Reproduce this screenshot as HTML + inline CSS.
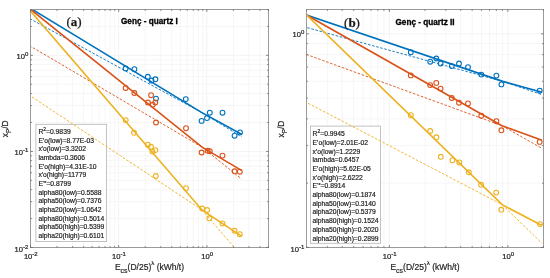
<!DOCTYPE html>
<html><head><meta charset="utf-8"><style>
html,body{margin:0;padding:0;background:#fff;}
body{width:550px;height:278px;overflow:hidden;}
svg{display:block;font-family:"Liberation Sans", sans-serif;will-change:transform;}
text{stroke:#1a1a1a;stroke-width:0.18px;}
.nb{stroke-width:0.25px;}
.tt{stroke:#000;stroke-width:0.3px;}
.tk{stroke:#1e1e1e;stroke-width:0.22px;}
</style></head><body>
<svg width="550" height="278" viewBox="0 0 550 278">
<rect width="550" height="278" fill="#fff"/>
<defs>
<clipPath id="c1"><rect x="30.5" y="9.5" width="238.0" height="238.0"/></clipPath>
<clipPath id="c2"><rect x="306.5" y="9.5" width="237.0" height="238.0"/></clipPath>
</defs>
<line x1="30.50" y1="9.50" x2="30.50" y2="247.50" stroke="#f3f3f3" stroke-width="1"/>
<line x1="57.05" y1="9.50" x2="57.05" y2="247.50" stroke="#f6f6f6" stroke-width="1"/>
<line x1="72.57" y1="9.50" x2="72.57" y2="247.50" stroke="#f6f6f6" stroke-width="1"/>
<line x1="83.59" y1="9.50" x2="83.59" y2="247.50" stroke="#f6f6f6" stroke-width="1"/>
<line x1="92.14" y1="9.50" x2="92.14" y2="247.50" stroke="#f6f6f6" stroke-width="1"/>
<line x1="99.12" y1="9.50" x2="99.12" y2="247.50" stroke="#f6f6f6" stroke-width="1"/>
<line x1="105.02" y1="9.50" x2="105.02" y2="247.50" stroke="#f6f6f6" stroke-width="1"/>
<line x1="110.14" y1="9.50" x2="110.14" y2="247.50" stroke="#f6f6f6" stroke-width="1"/>
<line x1="114.65" y1="9.50" x2="114.65" y2="247.50" stroke="#f6f6f6" stroke-width="1"/>
<line x1="118.68" y1="9.50" x2="118.68" y2="247.50" stroke="#f3f3f3" stroke-width="1"/>
<line x1="145.23" y1="9.50" x2="145.23" y2="247.50" stroke="#f6f6f6" stroke-width="1"/>
<line x1="160.76" y1="9.50" x2="160.76" y2="247.50" stroke="#f6f6f6" stroke-width="1"/>
<line x1="171.77" y1="9.50" x2="171.77" y2="247.50" stroke="#f6f6f6" stroke-width="1"/>
<line x1="180.32" y1="9.50" x2="180.32" y2="247.50" stroke="#f6f6f6" stroke-width="1"/>
<line x1="187.30" y1="9.50" x2="187.30" y2="247.50" stroke="#f6f6f6" stroke-width="1"/>
<line x1="193.20" y1="9.50" x2="193.20" y2="247.50" stroke="#f6f6f6" stroke-width="1"/>
<line x1="198.32" y1="9.50" x2="198.32" y2="247.50" stroke="#f6f6f6" stroke-width="1"/>
<line x1="202.83" y1="9.50" x2="202.83" y2="247.50" stroke="#f6f6f6" stroke-width="1"/>
<line x1="206.86" y1="9.50" x2="206.86" y2="247.50" stroke="#f3f3f3" stroke-width="1"/>
<line x1="233.41" y1="9.50" x2="233.41" y2="247.50" stroke="#f6f6f6" stroke-width="1"/>
<line x1="248.94" y1="9.50" x2="248.94" y2="247.50" stroke="#f6f6f6" stroke-width="1"/>
<line x1="259.95" y1="9.50" x2="259.95" y2="247.50" stroke="#f6f6f6" stroke-width="1"/>
<line x1="268.50" y1="9.50" x2="268.50" y2="247.50" stroke="#f6f6f6" stroke-width="1"/>
<line x1="30.50" y1="247.50" x2="268.50" y2="247.50" stroke="#f3f3f3" stroke-width="1"/>
<line x1="30.50" y1="218.58" x2="268.50" y2="218.58" stroke="#f6f6f6" stroke-width="1"/>
<line x1="30.50" y1="201.66" x2="268.50" y2="201.66" stroke="#f6f6f6" stroke-width="1"/>
<line x1="30.50" y1="189.65" x2="268.50" y2="189.65" stroke="#f6f6f6" stroke-width="1"/>
<line x1="30.50" y1="180.34" x2="268.50" y2="180.34" stroke="#f6f6f6" stroke-width="1"/>
<line x1="30.50" y1="172.74" x2="268.50" y2="172.74" stroke="#f6f6f6" stroke-width="1"/>
<line x1="30.50" y1="166.30" x2="268.50" y2="166.30" stroke="#f6f6f6" stroke-width="1"/>
<line x1="30.50" y1="160.73" x2="268.50" y2="160.73" stroke="#f6f6f6" stroke-width="1"/>
<line x1="30.50" y1="155.82" x2="268.50" y2="155.82" stroke="#f6f6f6" stroke-width="1"/>
<line x1="30.50" y1="151.42" x2="268.50" y2="151.42" stroke="#f3f3f3" stroke-width="1"/>
<line x1="30.50" y1="122.50" x2="268.50" y2="122.50" stroke="#f6f6f6" stroke-width="1"/>
<line x1="30.50" y1="105.58" x2="268.50" y2="105.58" stroke="#f6f6f6" stroke-width="1"/>
<line x1="30.50" y1="93.58" x2="268.50" y2="93.58" stroke="#f6f6f6" stroke-width="1"/>
<line x1="30.50" y1="84.26" x2="268.50" y2="84.26" stroke="#f6f6f6" stroke-width="1"/>
<line x1="30.50" y1="76.66" x2="268.50" y2="76.66" stroke="#f6f6f6" stroke-width="1"/>
<line x1="30.50" y1="70.22" x2="268.50" y2="70.22" stroke="#f6f6f6" stroke-width="1"/>
<line x1="30.50" y1="64.65" x2="268.50" y2="64.65" stroke="#f6f6f6" stroke-width="1"/>
<line x1="30.50" y1="59.74" x2="268.50" y2="59.74" stroke="#f6f6f6" stroke-width="1"/>
<line x1="30.50" y1="55.34" x2="268.50" y2="55.34" stroke="#f3f3f3" stroke-width="1"/>
<line x1="30.50" y1="26.42" x2="268.50" y2="26.42" stroke="#f6f6f6" stroke-width="1"/>
<line x1="30.50" y1="9.50" x2="268.50" y2="9.50" stroke="#f6f6f6" stroke-width="1"/>
<line x1="306.50" y1="9.50" x2="306.50" y2="247.50" stroke="#f6f6f6" stroke-width="1"/>
<line x1="327.37" y1="9.50" x2="327.37" y2="247.50" stroke="#f6f6f6" stroke-width="1"/>
<line x1="342.17" y1="9.50" x2="342.17" y2="247.50" stroke="#f6f6f6" stroke-width="1"/>
<line x1="353.66" y1="9.50" x2="353.66" y2="247.50" stroke="#f6f6f6" stroke-width="1"/>
<line x1="363.04" y1="9.50" x2="363.04" y2="247.50" stroke="#f6f6f6" stroke-width="1"/>
<line x1="370.97" y1="9.50" x2="370.97" y2="247.50" stroke="#f6f6f6" stroke-width="1"/>
<line x1="377.84" y1="9.50" x2="377.84" y2="247.50" stroke="#f6f6f6" stroke-width="1"/>
<line x1="383.91" y1="9.50" x2="383.91" y2="247.50" stroke="#f6f6f6" stroke-width="1"/>
<line x1="389.33" y1="9.50" x2="389.33" y2="247.50" stroke="#f3f3f3" stroke-width="1"/>
<line x1="425.00" y1="9.50" x2="425.00" y2="247.50" stroke="#f6f6f6" stroke-width="1"/>
<line x1="445.87" y1="9.50" x2="445.87" y2="247.50" stroke="#f6f6f6" stroke-width="1"/>
<line x1="460.67" y1="9.50" x2="460.67" y2="247.50" stroke="#f6f6f6" stroke-width="1"/>
<line x1="472.16" y1="9.50" x2="472.16" y2="247.50" stroke="#f6f6f6" stroke-width="1"/>
<line x1="481.54" y1="9.50" x2="481.54" y2="247.50" stroke="#f6f6f6" stroke-width="1"/>
<line x1="489.47" y1="9.50" x2="489.47" y2="247.50" stroke="#f6f6f6" stroke-width="1"/>
<line x1="496.34" y1="9.50" x2="496.34" y2="247.50" stroke="#f6f6f6" stroke-width="1"/>
<line x1="502.41" y1="9.50" x2="502.41" y2="247.50" stroke="#f6f6f6" stroke-width="1"/>
<line x1="507.83" y1="9.50" x2="507.83" y2="247.50" stroke="#f3f3f3" stroke-width="1"/>
<line x1="543.50" y1="9.50" x2="543.50" y2="247.50" stroke="#f6f6f6" stroke-width="1"/>
<line x1="306.50" y1="247.50" x2="543.50" y2="247.50" stroke="#f3f3f3" stroke-width="1"/>
<line x1="306.50" y1="183.18" x2="543.50" y2="183.18" stroke="#f6f6f6" stroke-width="1"/>
<line x1="306.50" y1="145.56" x2="543.50" y2="145.56" stroke="#f6f6f6" stroke-width="1"/>
<line x1="306.50" y1="118.87" x2="543.50" y2="118.87" stroke="#f6f6f6" stroke-width="1"/>
<line x1="306.50" y1="98.16" x2="543.50" y2="98.16" stroke="#f6f6f6" stroke-width="1"/>
<line x1="306.50" y1="81.24" x2="543.50" y2="81.24" stroke="#f6f6f6" stroke-width="1"/>
<line x1="306.50" y1="66.94" x2="543.50" y2="66.94" stroke="#f6f6f6" stroke-width="1"/>
<line x1="306.50" y1="54.55" x2="543.50" y2="54.55" stroke="#f6f6f6" stroke-width="1"/>
<line x1="306.50" y1="43.62" x2="543.50" y2="43.62" stroke="#f6f6f6" stroke-width="1"/>
<line x1="306.50" y1="33.84" x2="543.50" y2="33.84" stroke="#f3f3f3" stroke-width="1"/>
<rect x="35.90" y="124.30" width="70.70" height="117.30" fill="#fff" stroke="#b4b4b4" stroke-width="0.8"/>
<text x="38.40" y="134.00" font-size="6.75" fill="#1a1a1a">R<tspan font-size="5" dy="-3">2</tspan><tspan dy="3">=0.9839</tspan></text>
<text x="38.40" y="142.67" font-size="6.75" fill="#1a1a1a">E'o(low)=8.77E-03</text>
<text x="38.40" y="151.33" font-size="6.75" fill="#1a1a1a">x'o(low)=3.3202</text>
<text x="38.40" y="160.00" font-size="6.75" fill="#1a1a1a">lambda=0.3606</text>
<text x="38.40" y="168.67" font-size="6.75" fill="#1a1a1a">E'o(high)=4.31E-10</text>
<text x="38.40" y="177.34" font-size="6.75" fill="#1a1a1a">x'o(high)=11779</text>
<text x="38.40" y="186.00" font-size="6.75" fill="#1a1a1a">E<tspan font-size="6" dy="-1.2">'*</tspan><tspan dy="1.2">=0.8799</tspan></text>
<text x="38.40" y="194.67" font-size="6.75" fill="#1a1a1a">alpha80(low)=0.5588</text>
<text x="38.40" y="203.34" font-size="6.75" fill="#1a1a1a">alpha50(low)=0.7376</text>
<text x="38.40" y="212.00" font-size="6.75" fill="#1a1a1a">alpha20(low)=1.0642</text>
<text x="38.40" y="220.67" font-size="6.75" fill="#1a1a1a">alpha80(high)=0.5014</text>
<text x="38.40" y="229.34" font-size="6.75" fill="#1a1a1a">alpha50(high)=0.5399</text>
<text x="38.40" y="238.00" font-size="6.75" fill="#1a1a1a">alpha20(high)=0.6101</text>
<rect x="310.50" y="126.10" width="70.00" height="117.20" fill="#fff" stroke="#b4b4b4" stroke-width="0.8"/>
<text x="312.60" y="136.40" font-size="6.75" fill="#1a1a1a">R<tspan font-size="5" dy="-3">2</tspan><tspan dy="3">=0.9945</tspan></text>
<text x="312.60" y="145.08" font-size="6.75" fill="#1a1a1a">E'o(low)=2.01E-02</text>
<text x="312.60" y="153.75" font-size="6.75" fill="#1a1a1a">x'o(low)=1.2229</text>
<text x="312.60" y="162.43" font-size="6.75" fill="#1a1a1a">lambda=0.6457</text>
<text x="312.60" y="171.10" font-size="6.75" fill="#1a1a1a">E'o(high)=5.62E-05</text>
<text x="312.60" y="179.78" font-size="6.75" fill="#1a1a1a">x'o(high)=2.6222</text>
<text x="312.60" y="188.45" font-size="6.75" fill="#1a1a1a">E<tspan font-size="6" dy="-1.2">'*</tspan><tspan dy="1.2">=0.8914</tspan></text>
<text x="312.60" y="197.12" font-size="6.75" fill="#1a1a1a">alpha80(low)=0.1874</text>
<text x="312.60" y="205.80" font-size="6.75" fill="#1a1a1a">alpha50(low)=0.3140</text>
<text x="312.60" y="214.48" font-size="6.75" fill="#1a1a1a">alpha20(low)=0.5379</text>
<text x="312.60" y="223.15" font-size="6.75" fill="#1a1a1a">alpha80(high)=0.1524</text>
<text x="312.60" y="231.83" font-size="6.75" fill="#1a1a1a">alpha50(high)=0.2020</text>
<text x="312.60" y="240.50" font-size="6.75" fill="#1a1a1a">alpha20(high)=0.2899</text>
<polyline points="3.95,4.52 201.45,112.41" fill="none" stroke="#0072bd" stroke-width="0.9" stroke-dasharray="2.6,1.6" clip-path="url(#c1)"/>
<polyline points="201.45,112.41 241.50,136.80" fill="none" stroke="#0072bd" stroke-width="0.9" stroke-dasharray="2.6,1.6" clip-path="url(#c1)"/>
<polyline points="3.95,-7.83 201.45,112.41 241.50,134.29" fill="none" stroke="#0072bd" stroke-width="1.6" clip-path="url(#c1)"/>
<polyline points="3.95,30.65 202.07,147.19" fill="none" stroke="#d95319" stroke-width="0.9" stroke-dasharray="2.6,1.6" clip-path="url(#c1)"/>
<polyline points="202.07,147.19 241.50,178.88" fill="none" stroke="#d95319" stroke-width="0.9" stroke-dasharray="2.6,1.6" clip-path="url(#c1)"/>
<polyline points="3.95,-12.03 202.07,147.19 241.50,170.39" fill="none" stroke="#d95319" stroke-width="1.6" clip-path="url(#c1)"/>
<polyline points="3.95,78.30 201.99,209.94" fill="none" stroke="#edb120" stroke-width="0.9" stroke-dasharray="2.6,1.6" clip-path="url(#c1)"/>
<polyline points="201.99,209.94 241.50,255.75" fill="none" stroke="#edb120" stroke-width="0.9" stroke-dasharray="2.6,1.6" clip-path="url(#c1)"/>
<polyline points="3.95,-19.68 201.99,209.94 241.50,236.20" fill="none" stroke="#edb120" stroke-width="1.6" clip-path="url(#c1)"/>
<polyline points="270.83,17.67 502.70,81.38" fill="none" stroke="#0072bd" stroke-width="0.9" stroke-dasharray="2.6,1.6" clip-path="url(#c2)"/>
<polyline points="502.70,81.38 542.00,94.66" fill="none" stroke="#0072bd" stroke-width="0.9" stroke-dasharray="2.6,1.6" clip-path="url(#c2)"/>
<polyline points="270.83,3.03 502.70,81.38 542.00,92.18" fill="none" stroke="#0072bd" stroke-width="1.6" clip-path="url(#c2)"/>
<polyline points="270.83,41.51 501.99,125.70" fill="none" stroke="#d95319" stroke-width="0.9" stroke-dasharray="2.6,1.6" clip-path="url(#c2)"/>
<polyline points="501.99,125.70 542.00,148.35" fill="none" stroke="#d95319" stroke-width="0.9" stroke-dasharray="2.6,1.6" clip-path="url(#c2)"/>
<polyline points="270.83,-5.17 501.99,125.70 542.00,140.27" fill="none" stroke="#d95319" stroke-width="1.6" clip-path="url(#c2)"/>
<polyline points="270.83,83.77 502.17,204.69" fill="none" stroke="#edb120" stroke-width="0.9" stroke-dasharray="2.6,1.6" clip-path="url(#c2)"/>
<polyline points="502.17,204.69 542.00,243.32" fill="none" stroke="#edb120" stroke-width="0.9" stroke-dasharray="2.6,1.6" clip-path="url(#c2)"/>
<polyline points="270.83,-19.67 502.17,204.69 542.00,225.51" fill="none" stroke="#edb120" stroke-width="1.6" clip-path="url(#c2)"/>
<circle cx="125.6" cy="68.5" r="2.4" fill="none" stroke="#0072bd" stroke-width="1.1"/>
<circle cx="134.4" cy="69.2" r="2.4" fill="none" stroke="#0072bd" stroke-width="1.1"/>
<circle cx="147.8" cy="76.8" r="2.4" fill="none" stroke="#0072bd" stroke-width="1.1"/>
<circle cx="151.5" cy="80.5" r="2.4" fill="none" stroke="#0072bd" stroke-width="1.1"/>
<circle cx="155.4" cy="79.3" r="2.4" fill="none" stroke="#0072bd" stroke-width="1.1"/>
<circle cx="156" cy="98.6" r="2.4" fill="none" stroke="#0072bd" stroke-width="1.1"/>
<circle cx="185.8" cy="99.1" r="2.4" fill="none" stroke="#0072bd" stroke-width="1.1"/>
<circle cx="201.6" cy="120.9" r="2.4" fill="none" stroke="#0072bd" stroke-width="1.1"/>
<circle cx="207" cy="118.1" r="2.4" fill="none" stroke="#0072bd" stroke-width="1.1"/>
<circle cx="209.8" cy="112.7" r="2.4" fill="none" stroke="#0072bd" stroke-width="1.1"/>
<circle cx="222.5" cy="112.7" r="2.4" fill="none" stroke="#0072bd" stroke-width="1.1"/>
<circle cx="234.6" cy="135.7" r="2.4" fill="none" stroke="#0072bd" stroke-width="1.1"/>
<circle cx="240" cy="132.4" r="2.4" fill="none" stroke="#0072bd" stroke-width="1.1"/>
<circle cx="125.6" cy="88" r="2.4" fill="none" stroke="#d95319" stroke-width="1.1"/>
<circle cx="134.4" cy="93" r="2.4" fill="none" stroke="#d95319" stroke-width="1.1"/>
<circle cx="151.1" cy="95.2" r="2.4" fill="none" stroke="#d95319" stroke-width="1.1"/>
<circle cx="147.9" cy="102.5" r="2.4" fill="none" stroke="#d95319" stroke-width="1.1"/>
<circle cx="152.7" cy="104.8" r="2.4" fill="none" stroke="#d95319" stroke-width="1.1"/>
<circle cx="155.3" cy="102.4" r="2.4" fill="none" stroke="#d95319" stroke-width="1.1"/>
<circle cx="156" cy="122.5" r="2.4" fill="none" stroke="#d95319" stroke-width="1.1"/>
<circle cx="186" cy="128.2" r="2.4" fill="none" stroke="#d95319" stroke-width="1.1"/>
<circle cx="201.6" cy="152.5" r="2.4" fill="none" stroke="#d95319" stroke-width="1.1"/>
<circle cx="207.6" cy="150.8" r="2.4" fill="none" stroke="#d95319" stroke-width="1.1"/>
<circle cx="209.8" cy="151.2" r="2.4" fill="none" stroke="#d95319" stroke-width="1.1"/>
<circle cx="222.5" cy="155.6" r="2.4" fill="none" stroke="#d95319" stroke-width="1.1"/>
<circle cx="234.6" cy="171.3" r="2.4" fill="none" stroke="#d95319" stroke-width="1.1"/>
<circle cx="239.8" cy="171.7" r="2.4" fill="none" stroke="#d95319" stroke-width="1.1"/>
<circle cx="125.7" cy="120.1" r="2.4" fill="none" stroke="#edb120" stroke-width="1.1"/>
<circle cx="134" cy="132.8" r="2.4" fill="none" stroke="#edb120" stroke-width="1.1"/>
<circle cx="147.8" cy="144.7" r="2.4" fill="none" stroke="#edb120" stroke-width="1.1"/>
<circle cx="151" cy="146.8" r="2.4" fill="none" stroke="#edb120" stroke-width="1.1"/>
<circle cx="155.4" cy="150.1" r="2.4" fill="none" stroke="#edb120" stroke-width="1.1"/>
<circle cx="152.5" cy="151.6" r="2.4" fill="none" stroke="#edb120" stroke-width="1.1"/>
<circle cx="155.8" cy="176" r="2.4" fill="none" stroke="#edb120" stroke-width="1.1"/>
<circle cx="186" cy="188.2" r="2.4" fill="none" stroke="#edb120" stroke-width="1.1"/>
<circle cx="202.2" cy="208.5" r="2.4" fill="none" stroke="#edb120" stroke-width="1.1"/>
<circle cx="207.1" cy="210" r="2.4" fill="none" stroke="#edb120" stroke-width="1.1"/>
<circle cx="209.3" cy="218.3" r="2.4" fill="none" stroke="#edb120" stroke-width="1.1"/>
<circle cx="222.5" cy="223.4" r="2.4" fill="none" stroke="#edb120" stroke-width="1.1"/>
<circle cx="234.6" cy="230.8" r="2.4" fill="none" stroke="#edb120" stroke-width="1.1"/>
<circle cx="239.8" cy="234.2" r="2.4" fill="none" stroke="#edb120" stroke-width="1.1"/>
<circle cx="410.8" cy="52.2" r="2.4" fill="none" stroke="#0072bd" stroke-width="1.1"/>
<circle cx="430.2" cy="61.7" r="2.4" fill="none" stroke="#0072bd" stroke-width="1.1"/>
<circle cx="436.3" cy="58.5" r="2.4" fill="none" stroke="#0072bd" stroke-width="1.1"/>
<circle cx="440.6" cy="63.5" r="2.4" fill="none" stroke="#0072bd" stroke-width="1.1"/>
<circle cx="451.8" cy="66.1" r="2.4" fill="none" stroke="#0072bd" stroke-width="1.1"/>
<circle cx="459" cy="63.5" r="2.4" fill="none" stroke="#0072bd" stroke-width="1.1"/>
<circle cx="468" cy="67.1" r="2.4" fill="none" stroke="#0072bd" stroke-width="1.1"/>
<circle cx="481.3" cy="74.6" r="2.4" fill="none" stroke="#0072bd" stroke-width="1.1"/>
<circle cx="496.4" cy="75.6" r="2.4" fill="none" stroke="#0072bd" stroke-width="1.1"/>
<circle cx="501.4" cy="84.4" r="2.4" fill="none" stroke="#0072bd" stroke-width="1.1"/>
<circle cx="539.7" cy="90.7" r="2.4" fill="none" stroke="#0072bd" stroke-width="1.1"/>
<circle cx="410.8" cy="75.4" r="2.4" fill="none" stroke="#d95319" stroke-width="1.1"/>
<circle cx="430.2" cy="85.1" r="2.4" fill="none" stroke="#d95319" stroke-width="1.1"/>
<circle cx="436.3" cy="82.9" r="2.4" fill="none" stroke="#d95319" stroke-width="1.1"/>
<circle cx="440.6" cy="88.6" r="2.4" fill="none" stroke="#d95319" stroke-width="1.1"/>
<circle cx="451.8" cy="98" r="2.4" fill="none" stroke="#d95319" stroke-width="1.1"/>
<circle cx="459" cy="102.7" r="2.4" fill="none" stroke="#d95319" stroke-width="1.1"/>
<circle cx="468" cy="103.4" r="2.4" fill="none" stroke="#d95319" stroke-width="1.1"/>
<circle cx="481.3" cy="115.8" r="2.4" fill="none" stroke="#d95319" stroke-width="1.1"/>
<circle cx="496.4" cy="121.2" r="2.4" fill="none" stroke="#d95319" stroke-width="1.1"/>
<circle cx="501.4" cy="130.3" r="2.4" fill="none" stroke="#d95319" stroke-width="1.1"/>
<circle cx="539.7" cy="141.9" r="2.4" fill="none" stroke="#d95319" stroke-width="1.1"/>
<circle cx="410.8" cy="115.2" r="2.4" fill="none" stroke="#edb120" stroke-width="1.1"/>
<circle cx="430.2" cy="131" r="2.4" fill="none" stroke="#edb120" stroke-width="1.1"/>
<circle cx="436.4" cy="137.3" r="2.4" fill="none" stroke="#edb120" stroke-width="1.1"/>
<circle cx="440.8" cy="156.8" r="2.4" fill="none" stroke="#edb120" stroke-width="1.1"/>
<circle cx="452.4" cy="160.2" r="2.4" fill="none" stroke="#edb120" stroke-width="1.1"/>
<circle cx="459.3" cy="162.4" r="2.4" fill="none" stroke="#edb120" stroke-width="1.1"/>
<circle cx="468.8" cy="172.3" r="2.4" fill="none" stroke="#edb120" stroke-width="1.1"/>
<circle cx="481.1" cy="184.8" r="2.4" fill="none" stroke="#edb120" stroke-width="1.1"/>
<circle cx="496.2" cy="192.6" r="2.4" fill="none" stroke="#edb120" stroke-width="1.1"/>
<circle cx="501.3" cy="209.8" r="2.4" fill="none" stroke="#edb120" stroke-width="1.1"/>
<circle cx="540" cy="224.1" r="2.4" fill="none" stroke="#edb120" stroke-width="1.1"/>
<rect x="30.5" y="9.5" width="238.0" height="238.0" fill="none" stroke="#9a9a9a" stroke-width="1"/>
<line x1="30.50" y1="247.50" x2="30.50" y2="245.10" stroke="#666" stroke-width="0.8"/>
<line x1="30.50" y1="9.50" x2="30.50" y2="11.90" stroke="#666" stroke-width="0.8"/>
<line x1="57.05" y1="247.50" x2="57.05" y2="246.10" stroke="#666" stroke-width="0.8"/>
<line x1="57.05" y1="9.50" x2="57.05" y2="10.90" stroke="#666" stroke-width="0.8"/>
<line x1="72.57" y1="247.50" x2="72.57" y2="246.10" stroke="#666" stroke-width="0.8"/>
<line x1="72.57" y1="9.50" x2="72.57" y2="10.90" stroke="#666" stroke-width="0.8"/>
<line x1="83.59" y1="247.50" x2="83.59" y2="246.10" stroke="#666" stroke-width="0.8"/>
<line x1="83.59" y1="9.50" x2="83.59" y2="10.90" stroke="#666" stroke-width="0.8"/>
<line x1="92.14" y1="247.50" x2="92.14" y2="246.10" stroke="#666" stroke-width="0.8"/>
<line x1="92.14" y1="9.50" x2="92.14" y2="10.90" stroke="#666" stroke-width="0.8"/>
<line x1="99.12" y1="247.50" x2="99.12" y2="246.10" stroke="#666" stroke-width="0.8"/>
<line x1="99.12" y1="9.50" x2="99.12" y2="10.90" stroke="#666" stroke-width="0.8"/>
<line x1="105.02" y1="247.50" x2="105.02" y2="246.10" stroke="#666" stroke-width="0.8"/>
<line x1="105.02" y1="9.50" x2="105.02" y2="10.90" stroke="#666" stroke-width="0.8"/>
<line x1="110.14" y1="247.50" x2="110.14" y2="246.10" stroke="#666" stroke-width="0.8"/>
<line x1="110.14" y1="9.50" x2="110.14" y2="10.90" stroke="#666" stroke-width="0.8"/>
<line x1="114.65" y1="247.50" x2="114.65" y2="246.10" stroke="#666" stroke-width="0.8"/>
<line x1="114.65" y1="9.50" x2="114.65" y2="10.90" stroke="#666" stroke-width="0.8"/>
<line x1="118.68" y1="247.50" x2="118.68" y2="245.10" stroke="#666" stroke-width="0.8"/>
<line x1="118.68" y1="9.50" x2="118.68" y2="11.90" stroke="#666" stroke-width="0.8"/>
<line x1="145.23" y1="247.50" x2="145.23" y2="246.10" stroke="#666" stroke-width="0.8"/>
<line x1="145.23" y1="9.50" x2="145.23" y2="10.90" stroke="#666" stroke-width="0.8"/>
<line x1="160.76" y1="247.50" x2="160.76" y2="246.10" stroke="#666" stroke-width="0.8"/>
<line x1="160.76" y1="9.50" x2="160.76" y2="10.90" stroke="#666" stroke-width="0.8"/>
<line x1="171.77" y1="247.50" x2="171.77" y2="246.10" stroke="#666" stroke-width="0.8"/>
<line x1="171.77" y1="9.50" x2="171.77" y2="10.90" stroke="#666" stroke-width="0.8"/>
<line x1="180.32" y1="247.50" x2="180.32" y2="246.10" stroke="#666" stroke-width="0.8"/>
<line x1="180.32" y1="9.50" x2="180.32" y2="10.90" stroke="#666" stroke-width="0.8"/>
<line x1="187.30" y1="247.50" x2="187.30" y2="246.10" stroke="#666" stroke-width="0.8"/>
<line x1="187.30" y1="9.50" x2="187.30" y2="10.90" stroke="#666" stroke-width="0.8"/>
<line x1="193.20" y1="247.50" x2="193.20" y2="246.10" stroke="#666" stroke-width="0.8"/>
<line x1="193.20" y1="9.50" x2="193.20" y2="10.90" stroke="#666" stroke-width="0.8"/>
<line x1="198.32" y1="247.50" x2="198.32" y2="246.10" stroke="#666" stroke-width="0.8"/>
<line x1="198.32" y1="9.50" x2="198.32" y2="10.90" stroke="#666" stroke-width="0.8"/>
<line x1="202.83" y1="247.50" x2="202.83" y2="246.10" stroke="#666" stroke-width="0.8"/>
<line x1="202.83" y1="9.50" x2="202.83" y2="10.90" stroke="#666" stroke-width="0.8"/>
<line x1="206.86" y1="247.50" x2="206.86" y2="245.10" stroke="#666" stroke-width="0.8"/>
<line x1="206.86" y1="9.50" x2="206.86" y2="11.90" stroke="#666" stroke-width="0.8"/>
<line x1="233.41" y1="247.50" x2="233.41" y2="246.10" stroke="#666" stroke-width="0.8"/>
<line x1="233.41" y1="9.50" x2="233.41" y2="10.90" stroke="#666" stroke-width="0.8"/>
<line x1="248.94" y1="247.50" x2="248.94" y2="246.10" stroke="#666" stroke-width="0.8"/>
<line x1="248.94" y1="9.50" x2="248.94" y2="10.90" stroke="#666" stroke-width="0.8"/>
<line x1="259.95" y1="247.50" x2="259.95" y2="246.10" stroke="#666" stroke-width="0.8"/>
<line x1="259.95" y1="9.50" x2="259.95" y2="10.90" stroke="#666" stroke-width="0.8"/>
<line x1="268.50" y1="247.50" x2="268.50" y2="246.10" stroke="#666" stroke-width="0.8"/>
<line x1="268.50" y1="9.50" x2="268.50" y2="10.90" stroke="#666" stroke-width="0.8"/>
<line x1="30.50" y1="247.50" x2="32.90" y2="247.50" stroke="#666" stroke-width="0.8"/>
<line x1="268.50" y1="247.50" x2="266.10" y2="247.50" stroke="#666" stroke-width="0.8"/>
<line x1="30.50" y1="218.58" x2="31.90" y2="218.58" stroke="#666" stroke-width="0.8"/>
<line x1="268.50" y1="218.58" x2="267.10" y2="218.58" stroke="#666" stroke-width="0.8"/>
<line x1="30.50" y1="201.66" x2="31.90" y2="201.66" stroke="#666" stroke-width="0.8"/>
<line x1="268.50" y1="201.66" x2="267.10" y2="201.66" stroke="#666" stroke-width="0.8"/>
<line x1="30.50" y1="189.65" x2="31.90" y2="189.65" stroke="#666" stroke-width="0.8"/>
<line x1="268.50" y1="189.65" x2="267.10" y2="189.65" stroke="#666" stroke-width="0.8"/>
<line x1="30.50" y1="180.34" x2="31.90" y2="180.34" stroke="#666" stroke-width="0.8"/>
<line x1="268.50" y1="180.34" x2="267.10" y2="180.34" stroke="#666" stroke-width="0.8"/>
<line x1="30.50" y1="172.74" x2="31.90" y2="172.74" stroke="#666" stroke-width="0.8"/>
<line x1="268.50" y1="172.74" x2="267.10" y2="172.74" stroke="#666" stroke-width="0.8"/>
<line x1="30.50" y1="166.30" x2="31.90" y2="166.30" stroke="#666" stroke-width="0.8"/>
<line x1="268.50" y1="166.30" x2="267.10" y2="166.30" stroke="#666" stroke-width="0.8"/>
<line x1="30.50" y1="160.73" x2="31.90" y2="160.73" stroke="#666" stroke-width="0.8"/>
<line x1="268.50" y1="160.73" x2="267.10" y2="160.73" stroke="#666" stroke-width="0.8"/>
<line x1="30.50" y1="155.82" x2="31.90" y2="155.82" stroke="#666" stroke-width="0.8"/>
<line x1="268.50" y1="155.82" x2="267.10" y2="155.82" stroke="#666" stroke-width="0.8"/>
<line x1="30.50" y1="151.42" x2="32.90" y2="151.42" stroke="#666" stroke-width="0.8"/>
<line x1="268.50" y1="151.42" x2="266.10" y2="151.42" stroke="#666" stroke-width="0.8"/>
<line x1="30.50" y1="122.50" x2="31.90" y2="122.50" stroke="#666" stroke-width="0.8"/>
<line x1="268.50" y1="122.50" x2="267.10" y2="122.50" stroke="#666" stroke-width="0.8"/>
<line x1="30.50" y1="105.58" x2="31.90" y2="105.58" stroke="#666" stroke-width="0.8"/>
<line x1="268.50" y1="105.58" x2="267.10" y2="105.58" stroke="#666" stroke-width="0.8"/>
<line x1="30.50" y1="93.58" x2="31.90" y2="93.58" stroke="#666" stroke-width="0.8"/>
<line x1="268.50" y1="93.58" x2="267.10" y2="93.58" stroke="#666" stroke-width="0.8"/>
<line x1="30.50" y1="84.26" x2="31.90" y2="84.26" stroke="#666" stroke-width="0.8"/>
<line x1="268.50" y1="84.26" x2="267.10" y2="84.26" stroke="#666" stroke-width="0.8"/>
<line x1="30.50" y1="76.66" x2="31.90" y2="76.66" stroke="#666" stroke-width="0.8"/>
<line x1="268.50" y1="76.66" x2="267.10" y2="76.66" stroke="#666" stroke-width="0.8"/>
<line x1="30.50" y1="70.22" x2="31.90" y2="70.22" stroke="#666" stroke-width="0.8"/>
<line x1="268.50" y1="70.22" x2="267.10" y2="70.22" stroke="#666" stroke-width="0.8"/>
<line x1="30.50" y1="64.65" x2="31.90" y2="64.65" stroke="#666" stroke-width="0.8"/>
<line x1="268.50" y1="64.65" x2="267.10" y2="64.65" stroke="#666" stroke-width="0.8"/>
<line x1="30.50" y1="59.74" x2="31.90" y2="59.74" stroke="#666" stroke-width="0.8"/>
<line x1="268.50" y1="59.74" x2="267.10" y2="59.74" stroke="#666" stroke-width="0.8"/>
<line x1="30.50" y1="55.34" x2="32.90" y2="55.34" stroke="#666" stroke-width="0.8"/>
<line x1="268.50" y1="55.34" x2="266.10" y2="55.34" stroke="#666" stroke-width="0.8"/>
<line x1="30.50" y1="26.42" x2="31.90" y2="26.42" stroke="#666" stroke-width="0.8"/>
<line x1="268.50" y1="26.42" x2="267.10" y2="26.42" stroke="#666" stroke-width="0.8"/>
<line x1="30.50" y1="9.50" x2="31.90" y2="9.50" stroke="#666" stroke-width="0.8"/>
<line x1="268.50" y1="9.50" x2="267.10" y2="9.50" stroke="#666" stroke-width="0.8"/>
<rect x="306.5" y="9.5" width="237.0" height="238.0" fill="none" stroke="#9a9a9a" stroke-width="1"/>
<line x1="306.50" y1="247.50" x2="306.50" y2="246.10" stroke="#666" stroke-width="0.8"/>
<line x1="306.50" y1="9.50" x2="306.50" y2="10.90" stroke="#666" stroke-width="0.8"/>
<line x1="327.37" y1="247.50" x2="327.37" y2="246.10" stroke="#666" stroke-width="0.8"/>
<line x1="327.37" y1="9.50" x2="327.37" y2="10.90" stroke="#666" stroke-width="0.8"/>
<line x1="342.17" y1="247.50" x2="342.17" y2="246.10" stroke="#666" stroke-width="0.8"/>
<line x1="342.17" y1="9.50" x2="342.17" y2="10.90" stroke="#666" stroke-width="0.8"/>
<line x1="353.66" y1="247.50" x2="353.66" y2="246.10" stroke="#666" stroke-width="0.8"/>
<line x1="353.66" y1="9.50" x2="353.66" y2="10.90" stroke="#666" stroke-width="0.8"/>
<line x1="363.04" y1="247.50" x2="363.04" y2="246.10" stroke="#666" stroke-width="0.8"/>
<line x1="363.04" y1="9.50" x2="363.04" y2="10.90" stroke="#666" stroke-width="0.8"/>
<line x1="370.97" y1="247.50" x2="370.97" y2="246.10" stroke="#666" stroke-width="0.8"/>
<line x1="370.97" y1="9.50" x2="370.97" y2="10.90" stroke="#666" stroke-width="0.8"/>
<line x1="377.84" y1="247.50" x2="377.84" y2="246.10" stroke="#666" stroke-width="0.8"/>
<line x1="377.84" y1="9.50" x2="377.84" y2="10.90" stroke="#666" stroke-width="0.8"/>
<line x1="383.91" y1="247.50" x2="383.91" y2="246.10" stroke="#666" stroke-width="0.8"/>
<line x1="383.91" y1="9.50" x2="383.91" y2="10.90" stroke="#666" stroke-width="0.8"/>
<line x1="389.33" y1="247.50" x2="389.33" y2="245.10" stroke="#666" stroke-width="0.8"/>
<line x1="389.33" y1="9.50" x2="389.33" y2="11.90" stroke="#666" stroke-width="0.8"/>
<line x1="425.00" y1="247.50" x2="425.00" y2="246.10" stroke="#666" stroke-width="0.8"/>
<line x1="425.00" y1="9.50" x2="425.00" y2="10.90" stroke="#666" stroke-width="0.8"/>
<line x1="445.87" y1="247.50" x2="445.87" y2="246.10" stroke="#666" stroke-width="0.8"/>
<line x1="445.87" y1="9.50" x2="445.87" y2="10.90" stroke="#666" stroke-width="0.8"/>
<line x1="460.67" y1="247.50" x2="460.67" y2="246.10" stroke="#666" stroke-width="0.8"/>
<line x1="460.67" y1="9.50" x2="460.67" y2="10.90" stroke="#666" stroke-width="0.8"/>
<line x1="472.16" y1="247.50" x2="472.16" y2="246.10" stroke="#666" stroke-width="0.8"/>
<line x1="472.16" y1="9.50" x2="472.16" y2="10.90" stroke="#666" stroke-width="0.8"/>
<line x1="481.54" y1="247.50" x2="481.54" y2="246.10" stroke="#666" stroke-width="0.8"/>
<line x1="481.54" y1="9.50" x2="481.54" y2="10.90" stroke="#666" stroke-width="0.8"/>
<line x1="489.47" y1="247.50" x2="489.47" y2="246.10" stroke="#666" stroke-width="0.8"/>
<line x1="489.47" y1="9.50" x2="489.47" y2="10.90" stroke="#666" stroke-width="0.8"/>
<line x1="496.34" y1="247.50" x2="496.34" y2="246.10" stroke="#666" stroke-width="0.8"/>
<line x1="496.34" y1="9.50" x2="496.34" y2="10.90" stroke="#666" stroke-width="0.8"/>
<line x1="502.41" y1="247.50" x2="502.41" y2="246.10" stroke="#666" stroke-width="0.8"/>
<line x1="502.41" y1="9.50" x2="502.41" y2="10.90" stroke="#666" stroke-width="0.8"/>
<line x1="507.83" y1="247.50" x2="507.83" y2="245.10" stroke="#666" stroke-width="0.8"/>
<line x1="507.83" y1="9.50" x2="507.83" y2="11.90" stroke="#666" stroke-width="0.8"/>
<line x1="543.50" y1="247.50" x2="543.50" y2="246.10" stroke="#666" stroke-width="0.8"/>
<line x1="543.50" y1="9.50" x2="543.50" y2="10.90" stroke="#666" stroke-width="0.8"/>
<line x1="306.50" y1="247.50" x2="308.90" y2="247.50" stroke="#666" stroke-width="0.8"/>
<line x1="543.50" y1="247.50" x2="541.10" y2="247.50" stroke="#666" stroke-width="0.8"/>
<line x1="306.50" y1="183.18" x2="307.90" y2="183.18" stroke="#666" stroke-width="0.8"/>
<line x1="543.50" y1="183.18" x2="542.10" y2="183.18" stroke="#666" stroke-width="0.8"/>
<line x1="306.50" y1="145.56" x2="307.90" y2="145.56" stroke="#666" stroke-width="0.8"/>
<line x1="543.50" y1="145.56" x2="542.10" y2="145.56" stroke="#666" stroke-width="0.8"/>
<line x1="306.50" y1="118.87" x2="307.90" y2="118.87" stroke="#666" stroke-width="0.8"/>
<line x1="543.50" y1="118.87" x2="542.10" y2="118.87" stroke="#666" stroke-width="0.8"/>
<line x1="306.50" y1="98.16" x2="307.90" y2="98.16" stroke="#666" stroke-width="0.8"/>
<line x1="543.50" y1="98.16" x2="542.10" y2="98.16" stroke="#666" stroke-width="0.8"/>
<line x1="306.50" y1="81.24" x2="307.90" y2="81.24" stroke="#666" stroke-width="0.8"/>
<line x1="543.50" y1="81.24" x2="542.10" y2="81.24" stroke="#666" stroke-width="0.8"/>
<line x1="306.50" y1="66.94" x2="307.90" y2="66.94" stroke="#666" stroke-width="0.8"/>
<line x1="543.50" y1="66.94" x2="542.10" y2="66.94" stroke="#666" stroke-width="0.8"/>
<line x1="306.50" y1="54.55" x2="307.90" y2="54.55" stroke="#666" stroke-width="0.8"/>
<line x1="543.50" y1="54.55" x2="542.10" y2="54.55" stroke="#666" stroke-width="0.8"/>
<line x1="306.50" y1="43.62" x2="307.90" y2="43.62" stroke="#666" stroke-width="0.8"/>
<line x1="543.50" y1="43.62" x2="542.10" y2="43.62" stroke="#666" stroke-width="0.8"/>
<line x1="306.50" y1="33.84" x2="308.90" y2="33.84" stroke="#666" stroke-width="0.8"/>
<line x1="543.50" y1="33.84" x2="541.10" y2="33.84" stroke="#666" stroke-width="0.8"/>
<text x="74" y="26.2" text-anchor="middle" font-family="Liberation Serif, serif" font-size="13" fill="#1a1a1a" class="nb">(<tspan font-weight="bold">a</tspan>)</text>
<text x="352" y="26.6" text-anchor="middle" font-family="Liberation Serif, serif" font-size="13" fill="#1a1a1a" class="nb">(<tspan font-weight="bold">b</tspan>)</text>
<text x="121" y="24.4" font-weight="bold" font-size="8.2" fill="#000" class="tt">Genç - quartz I</text>
<text x="395.5" y="24.6" font-weight="bold" font-size="8.2" fill="#000" class="tt">Genç - quartz II</text>
<text x="30.80" y="259.30" text-anchor="middle" font-size="7.6" fill="#1e1e1e" class="tk">10<tspan font-size="6" dy="-3.1">-2</tspan></text>
<text x="118.98" y="259.30" text-anchor="middle" font-size="7.6" fill="#1e1e1e" class="tk">10<tspan font-size="6" dy="-3.1">-1</tspan></text>
<text x="207.16" y="259.30" text-anchor="middle" font-size="7.6" fill="#1e1e1e" class="tk">10<tspan font-size="6" dy="-3.1">0</tspan></text>
<text x="389.63" y="259.30" text-anchor="middle" font-size="7.6" fill="#1e1e1e" class="tk">10<tspan font-size="6" dy="-3.1">-1</tspan></text>
<text x="508.13" y="259.30" text-anchor="middle" font-size="7.6" fill="#1e1e1e" class="tk">10<tspan font-size="6" dy="-3.1">0</tspan></text>
<text x="28.40" y="251.80" text-anchor="end" font-size="7.6" fill="#1e1e1e" class="tk">10<tspan font-size="6" dy="-3.1">-2</tspan></text>
<text x="28.40" y="154.72" text-anchor="end" font-size="7.6" fill="#1e1e1e" class="tk">10<tspan font-size="6" dy="-3.1">-1</tspan></text>
<text x="28.40" y="58.64" text-anchor="end" font-size="7.6" fill="#1e1e1e" class="tk">10<tspan font-size="6" dy="-3.1">0</tspan></text>
<text x="304.40" y="251.80" text-anchor="end" font-size="7.6" fill="#1e1e1e" class="tk">10<tspan font-size="6" dy="-3.1">-1</tspan></text>
<text x="304.40" y="37.14" text-anchor="end" font-size="7.6" fill="#1e1e1e" class="tk">10<tspan font-size="6" dy="-3.1">0</tspan></text>
<text x="149.50" y="270" text-anchor="middle" font-size="8.5" fill="#262626">E<tspan font-size="7" dy="3.3">cs</tspan><tspan dy="-3.3">(D/25)</tspan><tspan font-size="6.2" dy="-5">λ</tspan><tspan dy="5"> (kWh/t)</tspan></text>
<text x="425.00" y="270" text-anchor="middle" font-size="8.5" fill="#262626">E<tspan font-size="7" dy="3.3">cs</tspan><tspan dy="-3.3">(D/25)</tspan><tspan font-size="6.2" dy="-5">λ</tspan><tspan dy="5"> (kWh/t)</tspan></text>
<text transform="translate(8.30,128.80) rotate(-90)" text-anchor="middle" font-size="8.5" fill="#262626">x<tspan font-size="6.4" dy="3">P</tspan><tspan dy="-3">/D</tspan></text>
<text transform="translate(283.60,129.00) rotate(-90)" text-anchor="middle" font-size="8.5" fill="#262626">x<tspan font-size="6.4" dy="3">P</tspan><tspan dy="-3">/D</tspan></text>
</svg></body></html>
